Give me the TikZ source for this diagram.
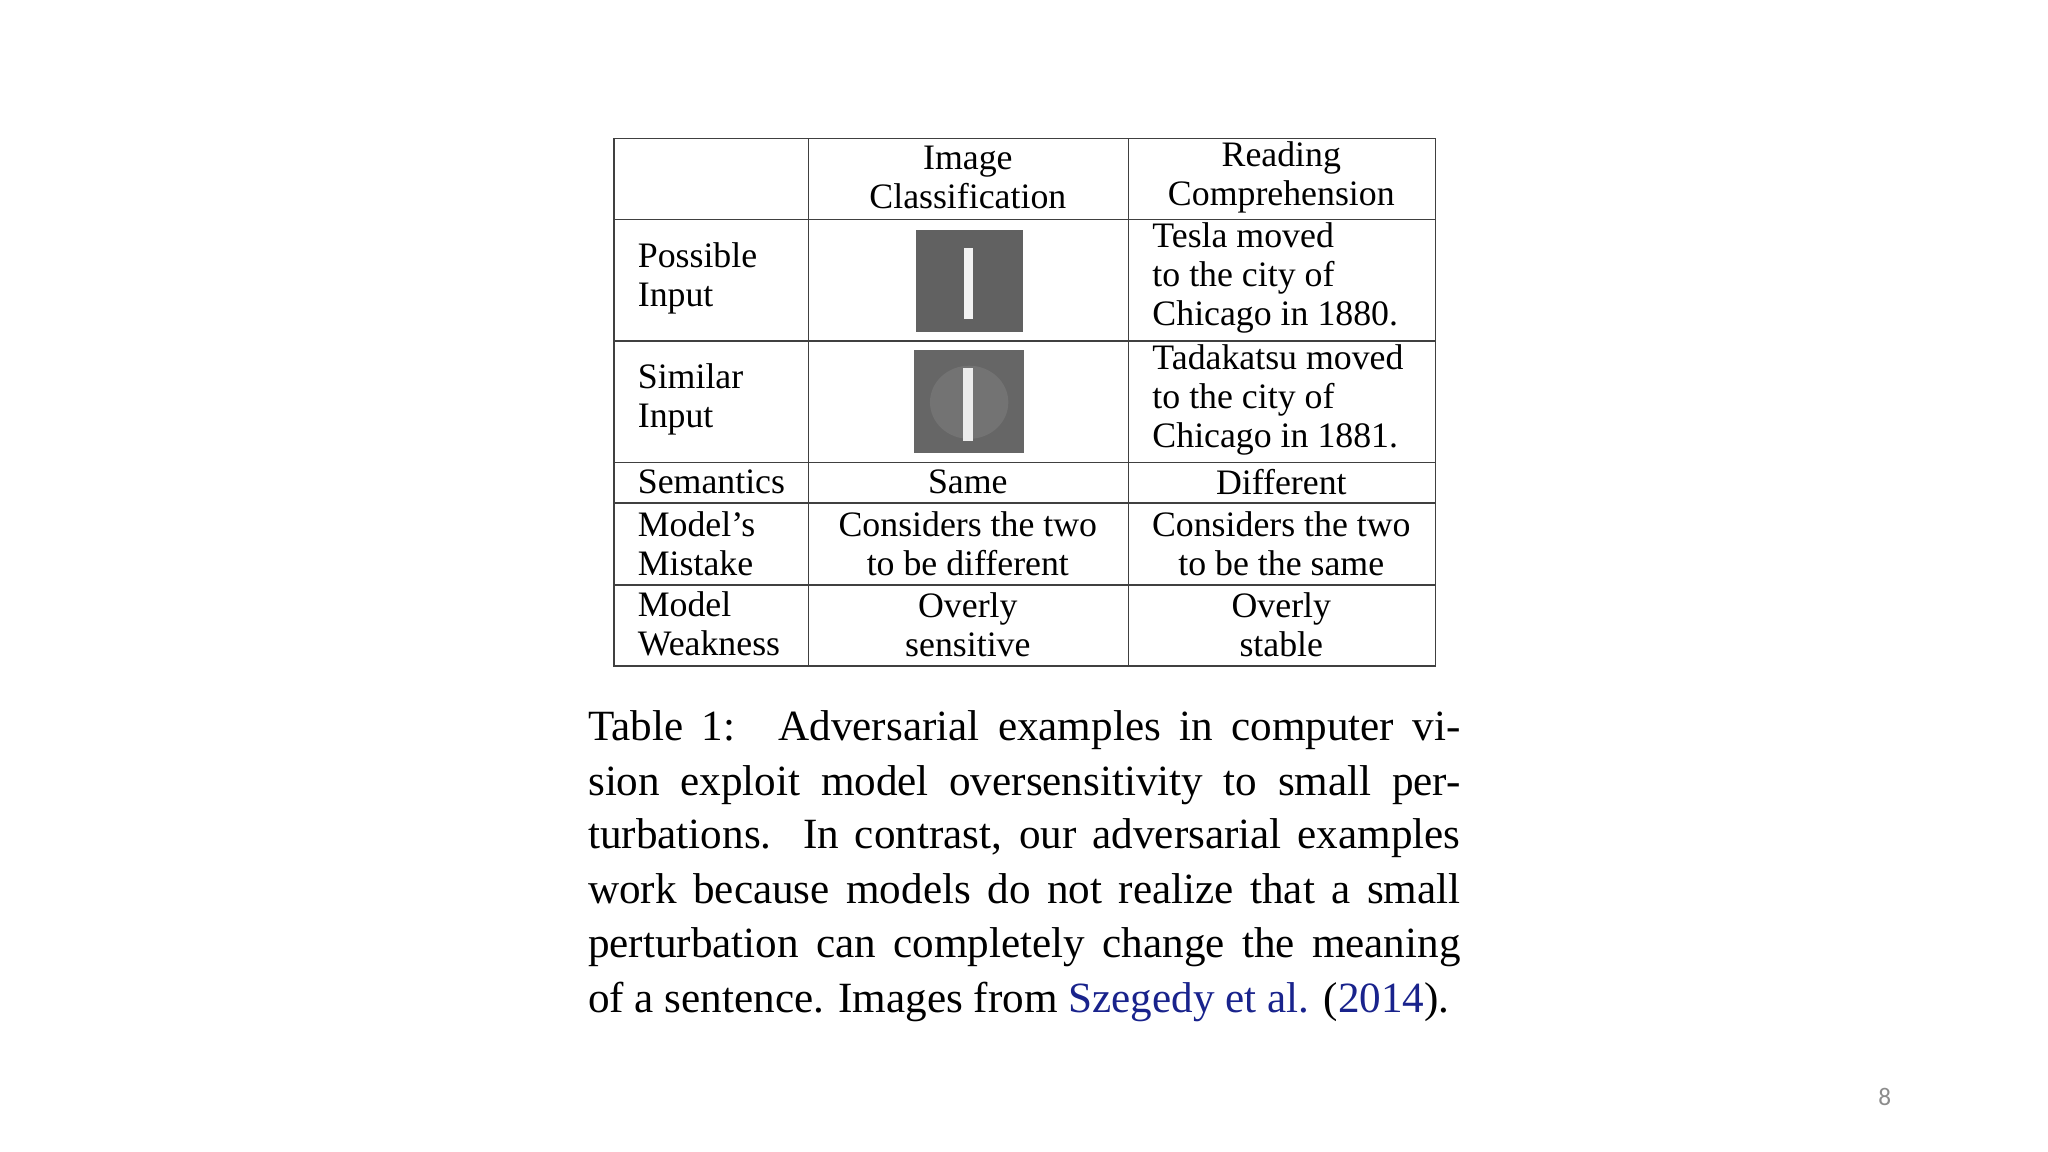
\documentclass[tikz,border=0pt]{standalone}
\usepackage{fontspec}
\setmainfont{Liberation Serif}
\newfontfamily\pgfont{Carlito}
\definecolor{linkblue}{RGB}{25,35,140}
\begin{document}
\begin{tikzpicture}[x=0.02cm,y=-0.02cm,
  cell/.style={font=\fontsize{15.6}{17}\selectfont, align=center, inner sep=0pt},
  lcell/.style={font=\fontsize{15.6}{17}\selectfont, align=left, inner sep=0pt, anchor=west},
  captext/.style={font=\fontsize{18.8}{23.3}\selectfont, inner sep=0pt, anchor=base west}]
\useasboundingbox (0,0) rectangle (1568,882);
\draw[line width=0.7pt,draw=black!75] (470,106) rectangle (1099,510);
\foreach \x in {619,864} \draw[line width=0.7pt,draw=black!75] (\x,106) -- (\x,510);
\foreach \y in {168,261,354,385,448} \draw[line width=0.7pt,draw=black!75] (470,\y) -- (1099,\y);
\node[cell] (h1) at (741,136) {Image\\Classification};
\node[cell] (h2) at (981,136) {Reading\\Comprehension};
\node[lcell] (r1) at (488,213) {Possible\\Input};
\node[lcell] (r2) at (488,306) {Similar\\Input};
\node[lcell] (r3) at (488,369) {Semantics};
\node[lcell] (r4) at (488,416) {Model’s\\Mistake};
\node[lcell] (r5) at (488,478) {Model\\Weakness};
% images
\fill[black!62] (701,176) rectangle (783,254);
\fill[white!90!gray] (738,190) rectangle (745,244);
\fill[black!60] (700,268) rectangle (784,347);
\fill[black!55] (742,308) ellipse (30 and 28);
\fill[white!85!gray] (737,282) rectangle (745,338);
\node[lcell] (t1) at (882,213) {Tesla moved\\to the city of\\Chicago in 1880.};
\node[lcell] (t2) at (882,306) {Tadakatsu moved\\to the city of\\Chicago in 1881.};
\node[cell] (s1) at (741,369) {Same};
\node[cell] (s2) at (981,369) {Different};
\node[cell] (m1) at (741,416) {Considers the two\\to be different};
\node[cell] (m2) at (981,416) {Considers the two\\to be the same};
\node[cell] (w1) at (741,478) {Overly\\sensitive};
\node[cell] (w2) at (981,478) {Overly\\stable};
% caption
\node[captext] (c1) at (450,567) {\makebox[13.36cm][s]{Table 1:\quad Adversarial examples in computer vi-}};
\node[captext] (c2) at (450,609) {\makebox[13.36cm][s]{sion exploit model oversensitivity to small per-}};
\node[captext] (c3) at (450,650) {\makebox[13.36cm][s]{turbations.\ \ In contrast, our adversarial examples}};
\node[captext] (c4) at (450,692) {\makebox[13.36cm][s]{work because models do not realize that a small}};
\node[captext] (c5) at (450,733) {\makebox[13.36cm][s]{perturbation can completely change the meaning}};
\node[captext] (c6) at (450,775) {of a sentence. Images from \textcolor{linkblue}{Szegedy et al.} (\textcolor{linkblue}{2014}).};
\node[font=\pgfont\fontsize{11}{13}\selectfont, text=black!45] (pg) at (1443,840) {8};
\end{tikzpicture}
\end{document}
